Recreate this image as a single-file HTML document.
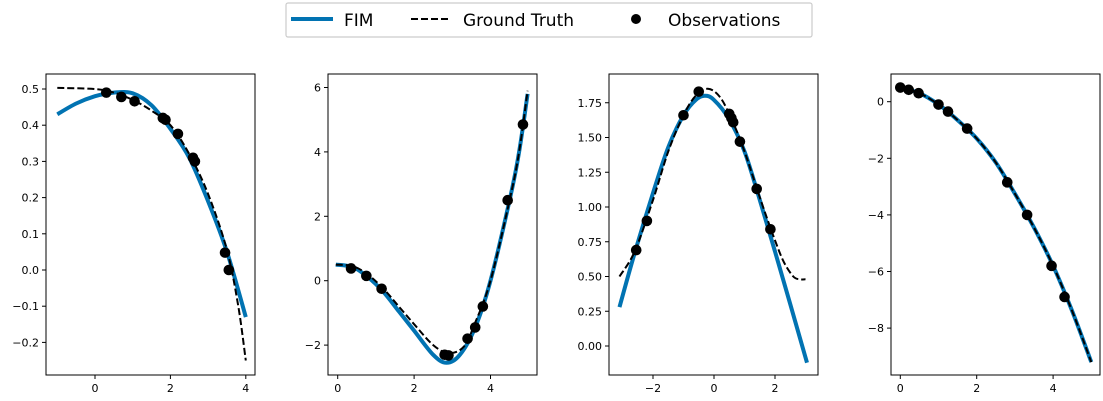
<!DOCTYPE html>
<html><head><meta charset="utf-8"><style>
body{margin:0;background:#fff;}
svg{display:block;font-family:"DejaVu Sans","Liberation Sans",sans-serif;}
</style></head><body>
<svg id="s" width="1103" height="401" xmlns="http://www.w3.org/2000/svg">
<rect x="286" y="3" width="526" height="34" rx="2" fill="#fff" stroke="#ccc" stroke-width="1.2"/>
<line x1="291" y1="19" x2="333" y2="19" stroke="#0173b2" stroke-width="4"/>
<text x="344" y="26" font-size="17">FIM</text>
<line x1="411" y1="19" x2="449" y2="19" stroke="#000" stroke-width="2" stroke-dasharray="7,3"/>
<text x="463" y="26" font-size="17">Ground Truth</text>
<circle cx="636" cy="19" r="5" fill="#000"/>
<text x="668" y="26" font-size="17">Observations</text>
</svg>
<script>
const S=document.getElementById('s');const NS='http://www.w3.org/2000/svg';
function el(t,a,txt){const e=document.createElementNS(NS,t);for(const k in a)e.setAttribute(k,a[k]);if(txt!=null)e.textContent=txt;S.appendChild(e);return e;}
function cr(P){let d='M'+P[0][0].toFixed(1)+','+P[0][1].toFixed(1);
 for(let i=0;i<P.length-1;i++){const p0=P[Math.max(0,i-1)],p1=P[i],p2=P[i+1],p3=P[Math.min(P.length-1,i+2)];
  const c1=[p1[0]+(p2[0]-p0[0])/6,p1[1]+(p2[1]-p0[1])/6],c2=[p2[0]-(p3[0]-p1[0])/6,p2[1]-(p3[1]-p1[1])/6];
  d+=' C'+c1.map(v=>v.toFixed(1))+' '+c2.map(v=>v.toFixed(1))+' '+p2.map(v=>v.toFixed(1));}
 return d;}
const panels=[
{l:46,r:255,x0:95,xs:37.7,y0:270,ys:362,xt:[0,2,4],yt:[0.5,0.4,0.3,0.2,0.1,0.0,-0.1,-0.2],yf:1,
gt:[[-1,0.503],[0,0.5],[0.5,0.49],[1,0.47],[1.5,0.44],[2,0.40],[2.5,0.32],[3,0.21],[3.5,0.055],[3.8,-0.1],[4,-0.25]],
fim:[[-1,0.43],[-0.5,0.46],[0,0.48],[0.5,0.49],[1,0.488],[1.5,0.455],[2,0.39],[2.5,0.31],[3,0.19],[3.5,0.05],[4,-0.13]],
pts:[[0.3,0.49],[0.7,0.478],[1.05,0.466],[1.8,0.42],[1.87,0.415],[2.2,0.376],[2.6,0.31],[2.65,0.30],[3.45,0.048],[3.55,0.0]]},
{l:328,r:537,x0:337.7,xs:38.2,y0:280.7,ys:32.2,xt:[0,2,4],yt:[6,4,2,0,-2],yf:0,
gt:[[-0.05,0.5],[0.4,0.45],[0.8,0.18],[1.2,-0.25],[1.6,-0.8],[2,-1.35],[2.5,-2.0],[2.9,-2.25],[3.3,-2.05],[3.6,-1.3],[4,0.0],[4.5,2.5],[4.75,4],[4.97,5.9]],
fim:[[-0.05,0.5],[0.4,0.42],[0.8,0.1],[1.2,-0.35],[1.6,-0.95],[2,-1.55],[2.5,-2.3],[2.85,-2.55],[3.2,-2.3],[3.6,-1.45],[4,0],[4.5,2.5],[4.75,4],[4.97,5.8]],
pts:[[0.35,0.38],[0.75,0.15],[1.15,-0.25],[2.8,-2.3],[2.9,-2.32],[3.4,-1.8],[3.6,-1.45],[3.8,-0.8],[4.45,2.5],[4.85,4.85]]},
{l:609,r:818,x0:714,xs:30.5,y0:346,ys:139,xt:[-2,0,2],yt:[1.75,1.5,1.25,1.0,0.75,0.5,0.25,0.0],yf:2,
gt:[[-3.1,0.5],[-2.6,0.68],[-2,1.05],[-1.5,1.4],[-1,1.66],[-0.6,1.8],[-0.2,1.85],[0.2,1.79],[0.6,1.62],[1,1.4],[1.5,1.07],[2,0.76],[2.3,0.6],[2.6,0.5],[2.8,0.48],[3,0.48]],
fim:[[-3.1,0.28],[-2.6,0.67],[-2,1.1],[-1.5,1.43],[-1,1.66],[-0.6,1.77],[-0.3,1.8],[0,1.77],[0.5,1.63],[1,1.4],[1.5,1.05],[2,0.68],[2.5,0.3],[3.05,-0.12]],
pts:[[-2.55,0.69],[-2.2,0.9],[-1.0,1.66],[-0.5,1.83],[0.5,1.67],[0.57,1.64],[0.63,1.61],[0.85,1.47],[1.4,1.13],[1.85,0.84]]},
{l:891,r:1100,x0:900.3,xs:38.2,y0:101.7,ys:28.3,xt:[0,2,4],yt:[0,-2,-4,-6,-8],yf:0,
gt:[[0,0.5],[0.5,0.3],[1,-0.1],[1.5,-0.65],[2,-1.3],[2.5,-2.15],[3,-3.25],[3.5,-4.45],[4,-5.8],[4.5,-7.4],[5,-9.2]],
pts:[[0,0.5],[0.22,0.42],[0.48,0.3],[1,-0.1],[1.25,-0.35],[1.75,-0.95],[2.8,-2.85],[3.32,-4.0],[3.96,-5.8],[4.3,-6.9]]}
];
panels[3].fim=panels[3].gt;
const T=74,B=375;
for(const p of panels){
 const X=x=>p.x0+x*p.xs,Y=y=>p.y0-y*p.ys;
 const pp=a=>a.map(q=>[X(q[0]),Y(q[1])]);
 el('path',{d:cr(pp(p.fim)),fill:'none',stroke:'#0173b2','stroke-width':4,'stroke-linejoin':'round'});
 el('path',{d:cr(pp(p.gt)),fill:'none',stroke:'#000','stroke-width':2,'stroke-dasharray':'7,3'});
 for(const q of p.pts)el('circle',{cx:X(q[0]),cy:Y(q[1]),r:5.3,fill:'#000'});
 el('rect',{x:p.l,y:T,width:p.r-p.l,height:B-T,fill:'none',stroke:'#000','stroke-width':1});
 for(const t of p.xt){const x=X(t);el('line',{x1:x,y1:B,x2:x,y2:B+4,stroke:'#000'});
  el('text',{x:x,y:B+17,'font-size':11,'text-anchor':'middle'},(t<0?'\u2212':'')+Math.abs(t));}
 for(const t of p.yt){const y=Y(t);el('line',{x1:p.l,y1:y,x2:p.l-4,y2:y,stroke:'#000'});
  el('text',{x:p.l-7,y:y+4,'font-size':11,'text-anchor':'end'},(t<0?'\u2212':'')+Math.abs(t).toFixed(p.yf));}
}
</script>
</body></html>
